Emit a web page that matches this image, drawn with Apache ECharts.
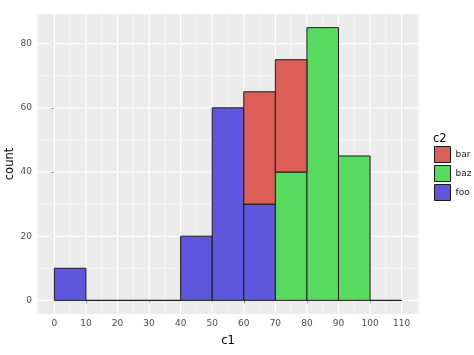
<!DOCTYPE html>
<html><head><meta charset="utf-8">
<script src="https://cdn.jsdelivr.net/npm/echarts@6/dist/echarts.min.js"></script>
<style>html,body{margin:0;padding:0;background:#fff}#c{width:474px;height:355px}</style>
</head><body><div id="c"></div>
<script>
var binStarts = [0,10,20,30,40,50,60,70,80,90,100];
var binWidth = 10;
var fooCounts = [10,0,0,0,20,60,30,0,0,0,0];
var bazCounts = [0,0,0,0,0,0,0,40,85,45,0];
var barCounts = [0,0,0,0,0,0,35,35,0,0,0];
var xTicks = [0,10,20,30,40,50,60,70,80,90,100,110];
var yTicks = [0,20,40,60,80];
var xMinor = [-5,5,15,25,35,45,55,65,75,85,95,105,115];
var yMinor = [10,30,50,70];

var colors = {bar:'#DB5F57', baz:'#57DB5E', foo:'#5F57DB'};
var order = [['foo',fooCounts],['baz',bazCounts],['bar',barCounts]];
var seriesData = {foo:[],baz:[],bar:[]};
binStarts.forEach(function(s,i){
  var base = 0, total = 0;
  order.forEach(function(o){ total += o[1][i]; });
  order.forEach(function(o){
    var v = o[1][i];
    if (v > 0) { seriesData[o[0]].push([s, s+binWidth, base, base+v]); base += v; }
  });
  if (total === 0) seriesData.foo.push([s, s+binWidth, 0, 0]);
});

var gridLines = [];
xTicks.forEach(function(v){ gridLines.push([0,v,1.1]); });
xMinor.forEach(function(v){ gridLines.push([0,v,0.55]); });
yTicks.forEach(function(v){ gridLines.push([1,v,1.1]); });
yMinor.forEach(function(v){ gridLines.push([1,v,0.55]); });

function rectItem(params, api){
  var p0 = api.coord([api.value(0), api.value(2)]);
  var p1 = api.coord([api.value(1), api.value(3)]);
  return {type:'rect', shape:{x:p0[0], y:Math.min(p0[1],p1[1]), width:p1[0]-p0[0], height:Math.abs(p1[1]-p0[1])},
    style:{fill:api.visual('color'), stroke:'#1a1a1a', lineWidth:1}};
}
function gridItem(params, api){
  var cs = params.coordSys;
  var dir = api.value(0), v = api.value(1), w = api.value(2);
  var shape;
  if (dir === 0) { var x = api.coord([v,0])[0]; shape = {x1:x, y1:cs.y, x2:x, y2:cs.y+cs.height}; }
  else { var y = api.coord([0,v])[1]; shape = {x1:cs.x, y1:y, x2:cs.x+cs.width, y2:y}; }
  return {type:'line', shape:shape, style:{stroke:'#ffffff', lineWidth:w}};
}

var font = 'DejaVu Sans';
var chart = echarts.init(document.getElementById('c'));
var mkSeries = function(name){
  return {name:name, type:'custom', renderItem:rectItem, data:seriesData[name], z:3,
    itemStyle:{color:colors[name], borderColor:'#1a1a1a', borderWidth:1},
    encode:{x:[0,1], y:[2,3]}, animation:false};
};
chart.setOption({
  animation:false,
  backgroundColor:'#ffffff',
  grid:{left:37, right:55, top:14, bottom:41, show:true, backgroundColor:'#EBEBEB', borderWidth:0,
    containLabel:false, outerBoundsMode:'none'},
  xAxis:{type:'value', min:-5.5, max:115.5, name:'c1', nameLocation:'middle', nameGap:21, nameMoveOverlap:false,
    nameTextStyle:{fontFamily:font, fontSize:11.5, color:'#000'},
    axisLine:{show:false}, splitLine:{show:false},
    axisTick:{show:true, customValues:xTicks, length:3, lineStyle:{color:'#333', width:1}},
    axisLabel:{customValues:xTicks, fontFamily:font, fontSize:9, color:'#4d4d4d', margin:5}},
  yAxis:{type:'value', min:-4.25, max:89.25,
    axisLine:{show:false}, splitLine:{show:false},
    axisTick:{show:true, customValues:yTicks, length:3, lineStyle:{color:'#333', width:1}},
    axisLabel:{customValues:yTicks, fontFamily:font, fontSize:9, color:'#4d4d4d', margin:5}},
  legend:{data:['bar','baz','foo'], orient:'vertical', left:434, top:146, padding:0, itemWidth:16, itemHeight:16, itemGap:2,
    icon:'rect', itemStyle:{borderColor:'#1a1a1a', borderWidth:1},
    textStyle:{fontFamily:font, fontSize:9, color:'#1a1a1a'}, selectedMode:false},
  graphic:[
    {type:'text', left:433, top:133, style:{text:'c2', fontFamily:font, fontSize:11.5, fill:'#000'}},
    {type:'text', x:10, y:164, rotation:Math.PI/2, style:{text:'count', fontFamily:font, fontSize:11.5, fill:'#000', align:'center', verticalAlign:'middle'}}
  ],
  series:[
    {type:'custom', name:'_grid', renderItem:gridItem, data:gridLines, z:1, silent:true, encode:{x:-1,y:-1}, animation:false},
    mkSeries('foo'), mkSeries('baz'), mkSeries('bar')
  ]
});
</script></body></html>
